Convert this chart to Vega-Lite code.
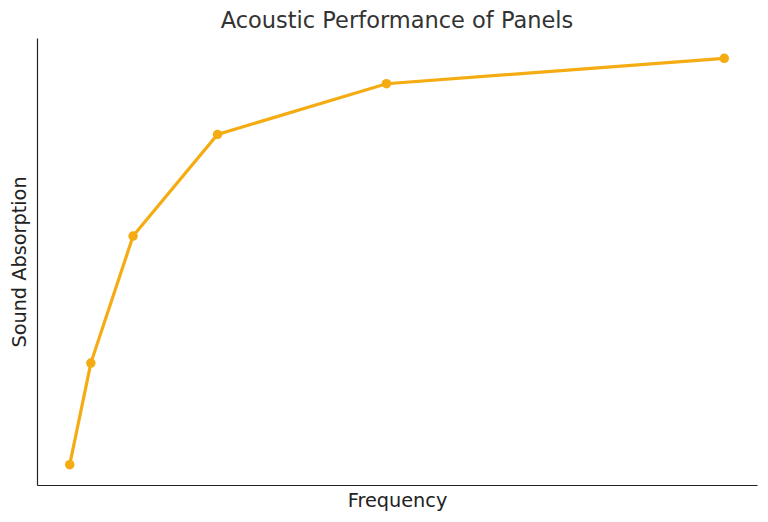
{
  "$schema": "https://vega.github.io/schema/vega-lite/v6.json",
  "width": 720,
  "height": 447,
  "autosize": {"type": "none"},
  "padding": {"left": 37, "top": 38, "right": 11, "bottom": 37},
  "background": "white",
  "title": {
    "text": "Acoustic Performance of Panels",
    "font": "DejaVu Sans",
    "fontSize": 22.5,
    "fontWeight": "normal",
    "color": "#333333",
    "offset": 6
  },
  "config": {
    "view": {"stroke": null},
    "axis": {
      "grid": false,
      "ticks": false,
      "labels": false,
      "domainColor": "#222222",
      "domainWidth": 1.2,
      "titleFont": "DejaVu Sans",
      "titleFontSize": 19.3,
      "titleFontWeight": "normal",
      "titleColor": "#222222"
    }
  },
  "data": {
    "values": [
      {"frequency": 125, "absorption": 0.1},
      {"frequency": 250, "absorption": 0.3},
      {"frequency": 500, "absorption": 0.55},
      {"frequency": 1000, "absorption": 0.75},
      {"frequency": 2000, "absorption": 0.85},
      {"frequency": 4000, "absorption": 0.9}
    ]
  },
  "mark": {
    "type": "line",
    "color": "#F4AC12",
    "strokeWidth": 3.2,
    "point": {"filled": true, "size": 90, "color": "#F4AC12", "opacity": 1}
  },
  "encoding": {
    "x": {
      "field": "frequency",
      "type": "quantitative",
      "title": "Frequency",
      "scale": {"domain": [-68.75, 4193.75], "nice": false, "zero": false},
      "axis": {"titlePadding": 6}
    },
    "y": {
      "field": "absorption",
      "type": "quantitative",
      "title": "Sound Absorption",
      "scale": {"domain": [0.06, 0.94], "nice": false, "zero": false},
      "axis": {"titlePadding": 8}
    }
  }
}
